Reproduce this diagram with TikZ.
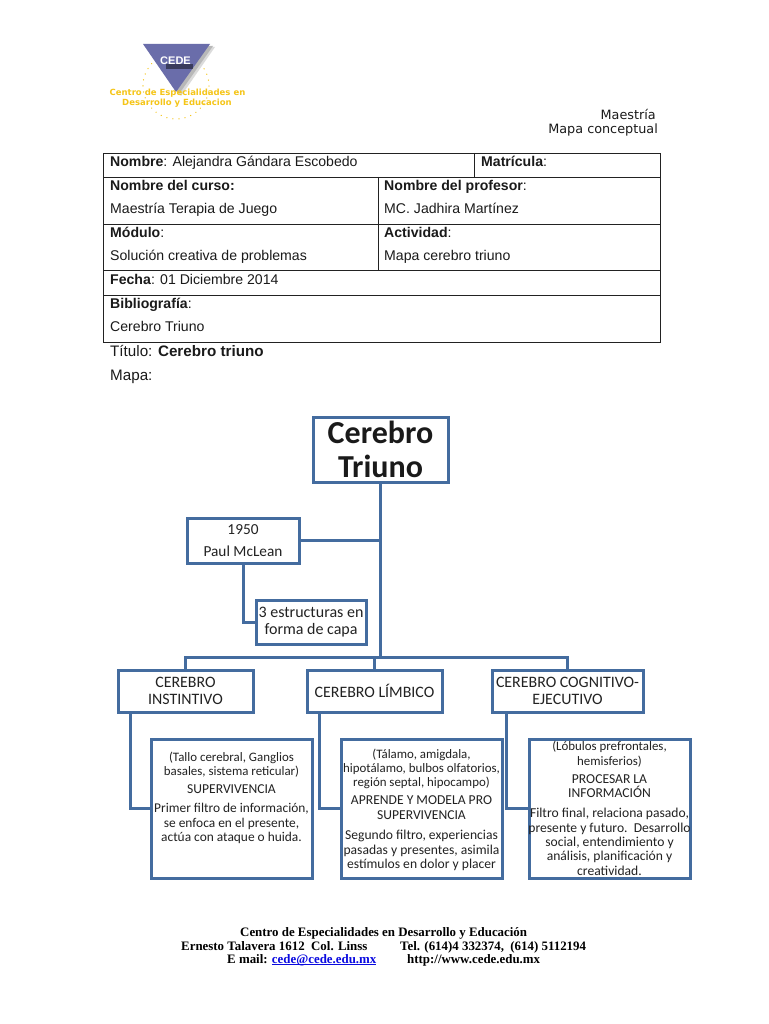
\documentclass[tikz,border=0pt]{standalone}
\usepackage{fontspec}
\setmainfont{Liberation Sans}
\newfontfamily\verd{DejaVu Sans}
\newfontfamily\cali{Carlito}
\newfontfamily\tms{Liberation Serif}
\definecolor{boxblue}{HTML}{446C9F}
\definecolor{rule}{HTML}{222222}
\definecolor{cedeviolet}{HTML}{6A6DAA}
\definecolor{cedeyellow}{HTML}{F5C518}
\definecolor{ink}{HTML}{1A1A1A}
\definecolor{maptext}{HTML}{222222}
\definecolor{linkblue}{HTML}{0A0AE0}
\newcommand\parenfont{\fontsize{12.9}{13.2}\selectfont}
\newcommand\bodyfont{\fontsize{13.6}{14.4}\selectfont}
\newcommand\smallbody{\fontsize{13.4}{14.4}\selectfont}
\tikzset{
  cell/.style={anchor=base west,inner sep=0pt,font=\fontsize{14.1}{16}\selectfont,text=ink},
  hdr/.style={anchor=base east,inner sep=0pt,font=\verd\fontsize{12.8}{15}\selectfont,text=ink},
  foot/.style={anchor=base west,inner sep=0pt,font=\tms\bfseries\fontsize{12.9}{15}\selectfont,text=black},
  mapbox/.style={draw=boxblue,line width=3pt,fill=white,rectangle,inner sep=0pt,align=center,text=maptext},
  lvl/.style={mapbox,minimum height=42pt,font=\cali\fontsize{15.9}{16.5}\selectfont},
  detail/.style={mapbox,minimum height=139pt,minimum width=161pt},
  detailtxt/.style={inner sep=0pt,align=center,anchor=north,text=maptext,font=\cali\bodyfont},
  link/.style={draw=boxblue,line width=3.6pt},
  thin link/.style={draw=boxblue,line width=3pt},
  tline/.style={draw=rule,line width=0.9pt},
}
\begin{document}
\begin{tikzpicture}[x=1pt,y=-1pt]
\useasboundingbox[fill=white] (0,0) rectangle (768,1024);
% logo
\draw[cedeyellow,line width=1.3pt,line cap=round,dash pattern=on 0.1pt off 6pt] (176,86) circle (33);
\fill[black!14] (147,47) -- (215,47) -- (181,96) -- cycle;
\fill[black!28] (146,46) -- (213,46) -- (179,94) -- cycle;
\fill[cedeviolet] (143,44) -- (210,44) -- (176,92) -- cycle;
\fill[black,opacity=.45] (166,64) rectangle (193,69);
\node[inner sep=0pt,text=white,font=\bfseries\fontsize{11}{12}\selectfont] (cede) at (175.5,61) {CEDE};
\node[inner sep=0pt,text=cedeyellow,font=\verd\bfseries\fontsize{8.5}{9}\selectfont] (logo1) at (177.5,93) {Centro de Especialidades en};
\node[inner sep=0pt,text=cedeyellow,font=\verd\bfseries\fontsize{8.5}{9}\selectfont] (logo2) at (177,103) {Desarrollo y Educacion};
% header
\node[hdr] (h1) at (656,119.5) {Maestría};
\node[hdr] (h2) at (658,133.5) {Mapa conceptual};
% table
\draw[tline] (103,153) rectangle (660.5,342);
\draw[tline] (103,177) -- (660.5,177);
\draw[tline] (103,224) -- (660.5,224);
\draw[tline] (103,270) -- (660.5,270);
\draw[tline] (103,295) -- (660.5,295);
\draw[tline] (474,153) -- (474,177);
\draw[tline] (378,177) -- (378,270);
\node[cell] (t1) at (110,166.5) {\textbf{Nombre}: Alejandra Gándara Escobedo};
\node[cell] (t2) at (481,166.5) {\textbf{Matrícula}:};
\node[cell] (t3) at (110,190.5) {\textbf{Nombre del curso:}};
\node[cell] (t4) at (384,190.5) {\textbf{Nombre del profesor}:};
\node[cell] (t5) at (110,214) {Maestría Terapia de Juego};
\node[cell] (t6) at (384,214) {MC. Jadhira Martínez};
\node[cell] (t7) at (110,237) {\textbf{Módulo}:};
\node[cell] (t8) at (384,237) {\textbf{Actividad}:};
\node[cell] (t9) at (110,260) {Solución creativa de problemas};
\node[cell] (t10) at (384,260) {Mapa cerebro triuno};
\node[cell] (t11) at (110,284) {\textbf{Fecha}: 01 Diciembre 2014};
\node[cell] (t12) at (110,308) {\textbf{Bibliografía}:};
\node[cell] (t13) at (110,331) {Cerebro Triuno};
\node[cell,font=\fontsize{15.2}{16}\selectfont] (t14) at (110,356) {Título: \textbf{Cerebro triuno}};
\node[cell,font=\fontsize{15.2}{16}\selectfont] (t15) at (110,380) {Mapa:};
% concept map boxes
\node[mapbox,minimum width=135pt,minimum height=65pt,text=ink,font=\cali\bfseries\fontsize{32}{33.5}\selectfont] (root) at (380.5,449.5) {Cerebro\\Triuno};
\node[mapbox,minimum width=112pt,minimum height=45pt,font=\cali\fontsize{15.3}{22.5}\selectfont] (mclean) at (243,540.5) {1950\\Paul McLean};
\node[mapbox,minimum width=110pt,minimum height=44pt,font=\cali\fontsize{16}{17.5}\selectfont] (capa) at (311,622) {3 estructuras en\\forma de capa};
\node[lvl,minimum width=135pt] (inst) at (185.5,691) {CEREBRO\\INSTINTIVO};
\node[lvl,minimum width=135pt] (limb) at (374.5,691) {CEREBRO LÍMBICO};
\node[lvl,minimum width=151pt] (cogn) at (567.5,691) {CEREBRO COGNITIVO-\\EJECUTIVO};
\node[detail] (instd) at (231.5,808.5) {};
\node[detail] (limbd) at (421.5,808.5) {};
\node[detail] (cognd) at (609.5,808.5) {};
\coordinate (bus) at (root.south |- 0,657);
\draw[link] (root.south) -- (bus);
\draw[thin link] (mclean.east) -- (mclean.east -| root.south);
\draw[thin link] (mclean.south) |- (capa.west);
\draw[thin link] (inst.north) |- (bus) -| (cogn.north);
\draw[thin link] (limb.north) -- (limb.north |- bus);
\draw[link] ([xshift=14pt]inst.south west) |- (instd.west);
\draw[link] ([xshift=14pt]limb.south west) |- (limbd.west);
\draw[link] ([xshift=16pt]cogn.south west) |- (cognd.west);
\node[detailtxt] (instt) at (231.5,751.5) {\parenfont(Tallo cerebral, Ganglios\\\parenfont basales, sistema reticular)\\[4pt]\bodyfont SUPERVIVENCIA\\[4.5pt]\smallbody Primer filtro de información,\\\smallbody se enfoca en el presente,\\\smallbody actúa con ataque o huida.};
\node[detailtxt] (limbt) at (421.5,748.5) {\parenfont(Tálamo, amigdala,\\\parenfont hipotálamo, bulbos olfatorios,\\\parenfont región septal, hipocampo)\\[3.5pt]\bodyfont APRENDE Y MODELA PRO\\SUPERVIVENCIA\\[6pt]Segundo filtro, experiencias\\pasadas y presentes, asimila\\estímulos en dolor y placer};
\node[detailtxt] (cognt) at (609.5,741) {\parenfont(Lóbulos prefrontales,\\\parenfont hemisferios)\\[4pt]\bodyfont PROCESAR LA\\INFORMACIÓN\\[5.5pt]Filtro final, relaciona pasado,\\presente y futuro.\ \ Desarrollo\\social, entendimiento y\\análisis, planificación y\\creatividad.};
% footer
\node[foot] (f1) at (240,936) {Centro de Especialidades en Desarrollo y Educación};
\node[foot] (f2) at (181,950) {Ernesto Talavera 1612\ \ Col. Linss};
\node[foot] (f3) at (400,950) {Tel. (614)4 332374,\ \ (614) 5112194};
\node[foot] (f4) at (227,963) {E mail: \textcolor{linkblue}{\underline{\smash{cede@cede.edu.mx}}}};
\node[foot] (f5) at (407,963) {http://www.cede.edu.mx};
\end{tikzpicture}
\end{document}
